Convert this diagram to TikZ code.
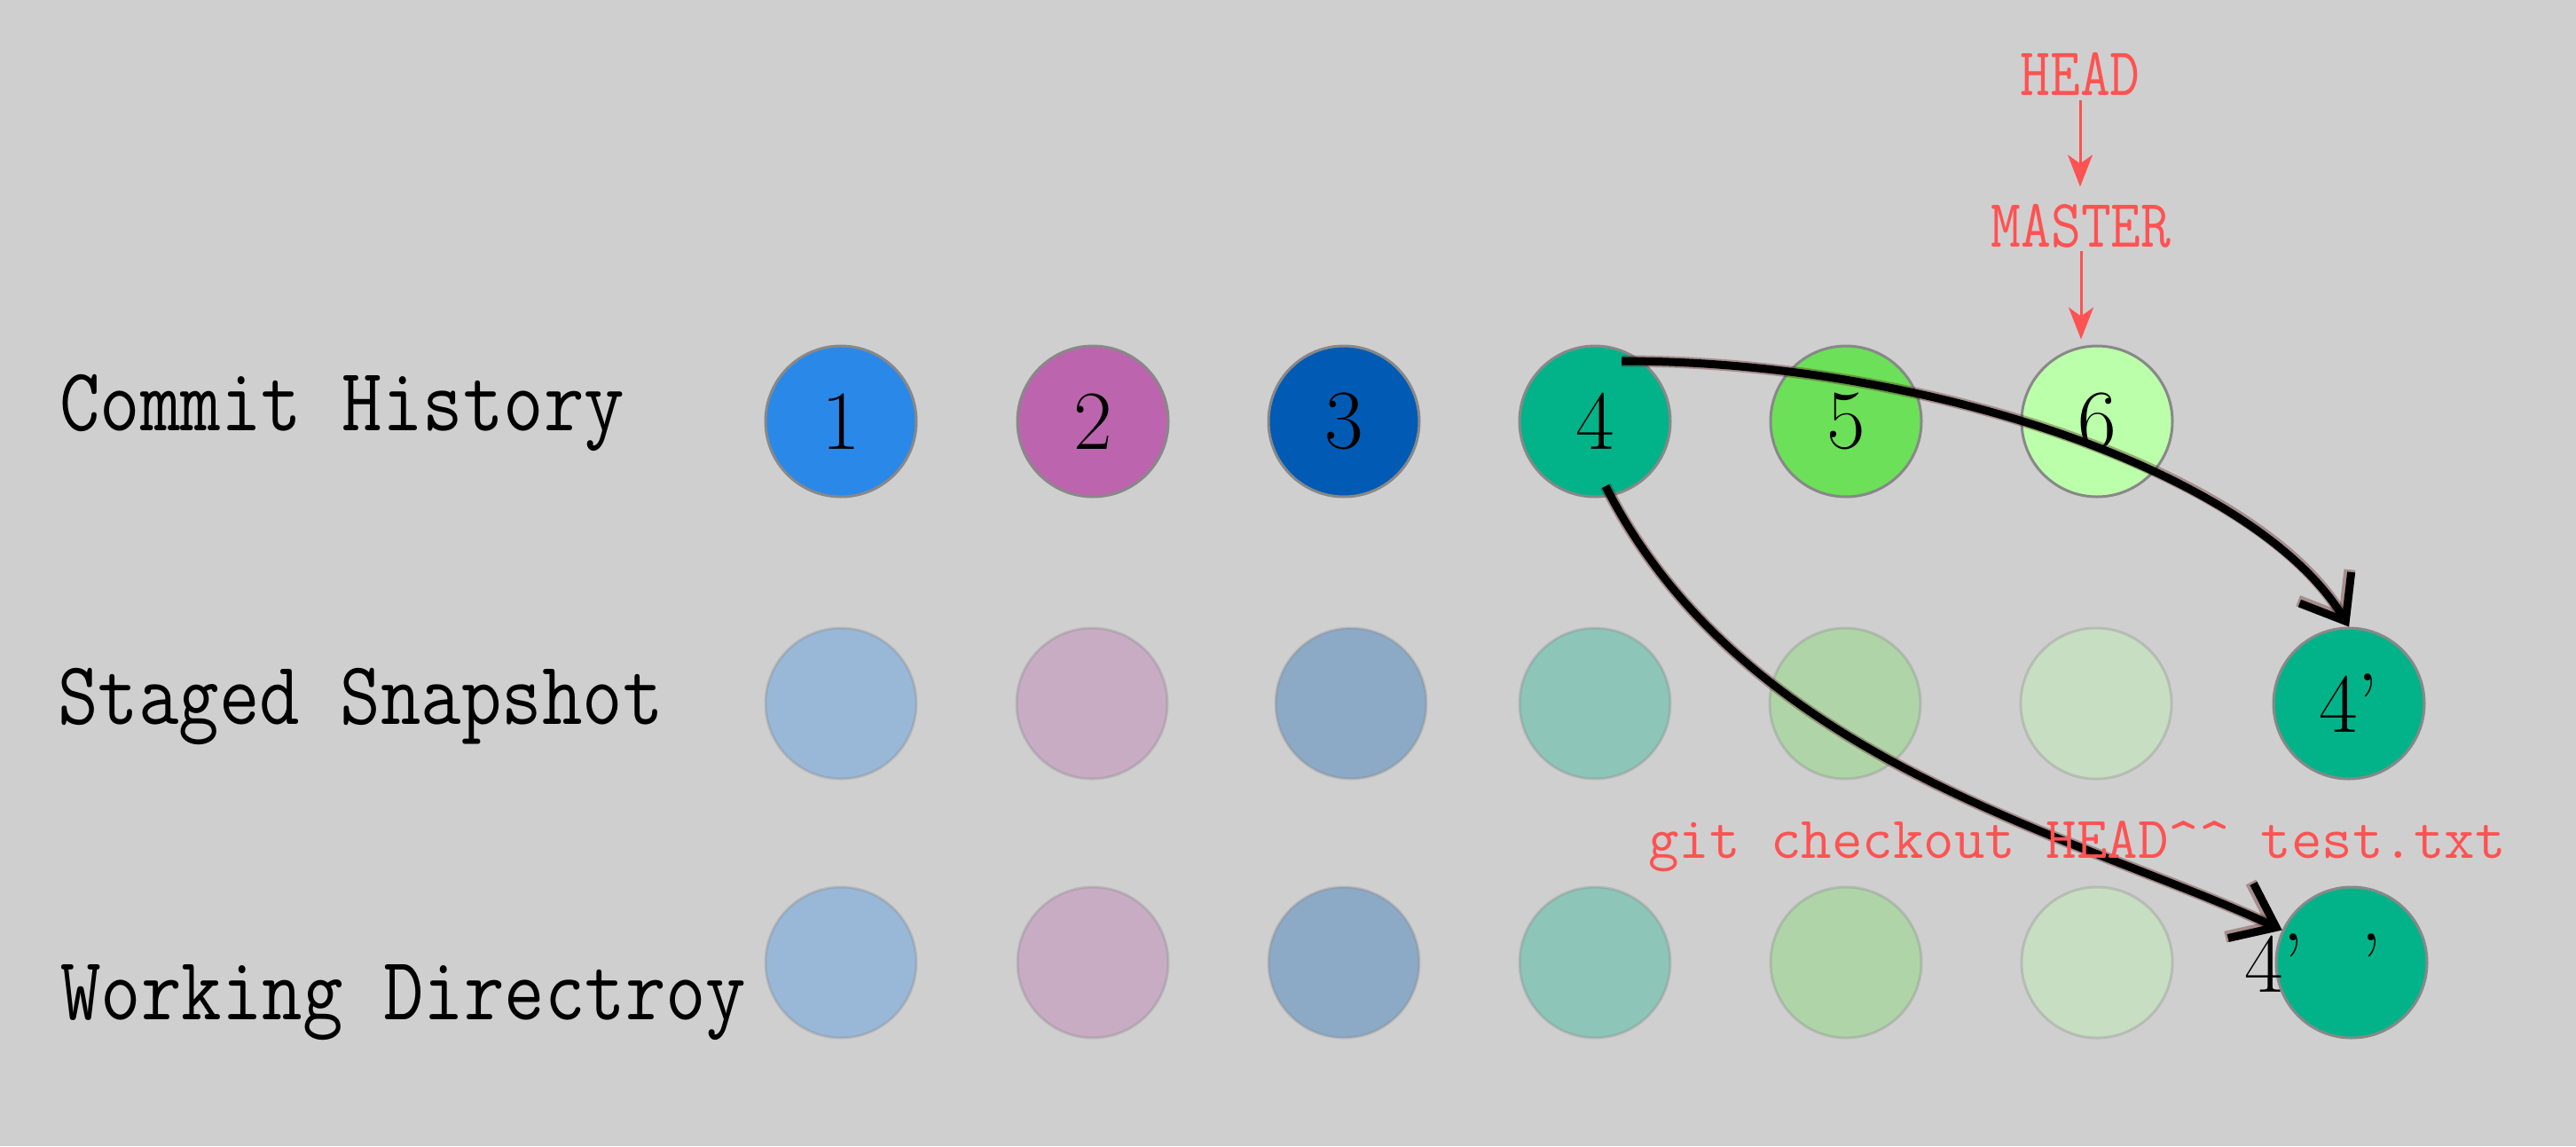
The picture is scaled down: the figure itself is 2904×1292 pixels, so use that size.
\documentclass[tikz,border=0pt]{standalone}
\usetikzlibrary{arrows.meta,calc}
\definecolor{bg}{HTML}{CFCFCF}
\definecolor{cA}{HTML}{2A88E8}
\definecolor{cB}{HTML}{BC65AE}
\definecolor{cC}{HTML}{015BB4}
\definecolor{cD}{HTML}{02B38A}
\definecolor{cE}{HTML}{6CE058}
\definecolor{cF}{HTML}{BBFFAA}
\definecolor{redtxt}{HTML}{FF5252}
\definecolor{rim}{HTML}{888888}
\definecolor{halo}{HTML}{5A1414}
\begin{document}
\begin{tikzpicture}[x=0.5pt,y=-0.5pt,
  commit/.style={circle, draw=rim, line width=1.5pt, minimum size=85pt, inner sep=0pt,
    font=\fontsize{47.4}{50}\selectfont},
  faded/.style={commit, opacity=0.32},
  rowlabel/.style={anchor=base west, inner sep=0pt, xscale=0.87,
    font=\ttfamily\fontsize{50.75}{60}\selectfont},
  reflabel/.style={anchor=base, inner sep=0pt, xscale=0.854, text=redtxt,
    font=\ttfamily\fontsize{38.5}{45}\selectfont},
  refarrow/.style={draw=redtxt, line width=1.5pt, -{Stealth[length=18pt,width=14pt,inset=5pt]}},
  move/.style={draw=black, line width=4.5pt, -{Straight Barb[length=22pt,width=34pt]},
    preaction={draw=halo, line width=6.5pt, opacity=0.35}}]
\useasboundingbox (0,0) rectangle (2904,1292);
\fill[bg] (0,0) rectangle (2904,1292);

% row labels
\node[rowlabel] (l1) at (67,485) {Commit History};
\node[rowlabel] (l2) at (65,816) {Staged Snapshot};
\node[rowlabel] (l3) at (68,1149) {Working Directroy};

% commit history
\node[commit, fill=cA] (c1) at (948,475) {1};
\node[commit, fill=cB] (c2) at (1232,475) {2};
\node[commit, fill=cC] (c3) at (1515,475) {3};
\node[commit, fill=cD] (c4) at (1798,475) {4};
\node[commit, fill=cE] (c5) at (2081,475) {5};
\node[commit, fill=cF] (c6) at (2364,475) {6};

% staged snapshot
\node[faded, fill=cA] (s1) at (948,793) {};
\node[faded, fill=cB] (s2) at (1231,793) {};
\node[faded, fill=cC] (s3) at (1523,793) {};
\node[faded, fill=cD] (s4) at (1798,793) {};
\node[faded, fill=cE] (s5) at (2080,793) {};
\node[faded, fill=cF] (s6) at (2363,793) {};
\node[commit, fill=cD] (c4p) at (2648,793) {4’};

% working directory
\node[faded, fill=cA] (w1) at (948,1085) {};
\node[faded, fill=cB] (w2) at (1232,1085) {};
\node[faded, fill=cC] (w3) at (1515,1085) {};
\node[faded, fill=cD] (w4) at (1798,1085) {};
\node[faded, fill=cE] (w5) at (2081,1085) {};
\node[faded, fill=cF] (w6) at (2364,1085) {};
\node[commit, fill=cD] (c4pp) at (2651,1085) {};

% HEAD / MASTER
\node[reflabel] (head) at (2345,107) {HEAD};
\node[reflabel] (master) at (2346,278) {MASTER};
\draw[refarrow, shorten <=3pt, shorten >=9.5pt] (head.south) -- (head.south |- master.north);
\draw[refarrow, shorten <=2pt, shorten >=3pt] (master.south) -- (master.south |- c6.north);

% moves
\draw[move] ($(c4.center)+(30,-68)$) .. controls +(350,0) and +(-103,-171) .. (c4p.north);
\draw[move] ($(c4.center)+(12,73)$) .. controls +(158,312) and +(-227,-106) .. (c4pp.155);

% texts over the arrows
\node[anchor=base west, inner sep=0pt, font=\fontsize{47.4}{50}\selectfont] (t4pp) at (2530,1118) {4’\hspace{32pt}’};
\node[anchor=base west, inner sep=0pt, xscale=1.0, text=redtxt,
  font=\ttfamily\fontsize{33.5}{40}\selectfont] (cmd) at (1858,967)
  {git checkout HEAD\textasciicircum\textasciicircum{} test.txt};
\end{tikzpicture}
\end{document}
